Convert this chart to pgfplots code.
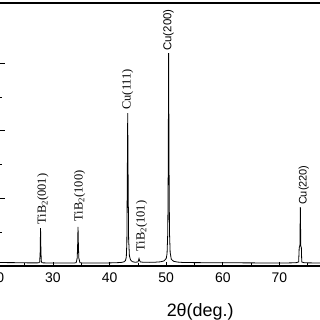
\documentclass[border=0pt]{standalone}
\usepackage{pgfplots}
\pgfplotsset{compat=1.18}
\usepackage{fontspec}
\setmainfont{Liberation Sans}
\newfontfamily\serif{Liberation Serif}
\newfontfamily\sans{Liberation Sans}
\pgfplotstableread{
x y
20 0.055
21 0.052
22 0.050
23 0.050
24 0.048
25 0.047
26 0.046
27 0.046
27.5 0.047
27.65 0.06
27.73 0.2
27.8 0.56
27.87 0.2
27.95 0.06
28.1 0.047
29 0.045
30 0.045
31 0.044
32 0.044
33 0.044
33.8 0.045
34.1 0.05
34.28 0.12
34.35 0.3
34.42 0.58
34.49 0.3
34.56 0.12
34.75 0.05
35 0.046
36 0.044
37 0.044
38 0.044
39 0.045
40 0.046
41 0.048
42 0.052
42.5 0.06
42.8 0.08
42.95 0.13
43.05 0.35
43.12 1.2
43.2 2.26
43.28 1.2
43.36 0.4
43.5 0.15
43.7 0.09
44.0 0.065
44.5 0.055
45.0 0.06
45.1 0.08
45.2 0.11
45.3 0.08
45.45 0.06
46 0.055
47 0.054
48 0.056
49 0.062
49.6 0.075
50.0 0.11
50.15 0.18
50.28 0.5
50.36 1.5
50.43 3.15
50.5 1.5
50.58 0.5
50.7 0.2
50.9 0.1
51.3 0.07
52 0.058
53 0.052
55 0.050
60 0.048
65 0.046
70 0.045
72 0.046
73 0.050
73.4 0.06
73.5 0.27
73.62 0.3
73.7 0.87
73.78 0.3
73.88 0.27
73.95 0.06
74.3 0.05
75 0.046
80 0.045
}\xrd
\begin{document}
\begin{tikzpicture}
\useasboundingbox (3.6bp,-54bp) rectangle (323.6bp,266bp);
\clip (3.6bp,-54bp) rectangle (323.6bp,266bp);
\begin{axis}[at={(0,0)}, anchor=south west, scale only axis,
  width=339.6bp, height=263bp,
  xmin=20, xmax=80, ymin=0, ymax=3.89,
  axis line style={line width=1.2bp},
  xtick={20,30,...,80}, minor x tick num=1, ytick=\empty,
  xtick pos=left, tick align=inside,
  major tick length=4.5bp, minor tick length=3bp,
  tick style={black, line width=0.8bp},
  /pgf/number format/assume math mode=true,
  xticklabel style={font=\sans\fontsize{14}{14}\selectfont, yshift=-3.3bp},
  xlabel={2θ(deg.)},
  xlabel style={font=\sans\fontsize{18}{18}\selectfont, at={(axis description cs:0.6,0)}, anchor=base, yshift=-50bp},
  clip=false]
\addplot[black, line width=0.8bp] table[x=x,y=y] {\xrd};
\node[rotate=90, anchor=west, inner sep=0pt, font=\serif\fontsize{12.5}{12.5}\selectfont] at (axis cs:28.2,0.61) {TiB\textsubscript{2}(001)};
\node[rotate=90, anchor=west, inner sep=0pt, font=\serif\fontsize{12.5}{12.5}\selectfont] at (axis cs:34.7,0.66) {TiB\textsubscript{2}(100)};
\node[rotate=90, anchor=west, inner sep=0pt, font=\serif\fontsize{12.5}{12.5}\selectfont] at (axis cs:43.2,2.31) {Cu(111)};
\node[rotate=90, anchor=west, inner sep=0pt, font=\serif\fontsize{12.5}{12.5}\selectfont] at (axis cs:45.67,0.21) {TiB\textsubscript{2}(101)};
\node[rotate=90, anchor=west, inner sep=0pt, font=\sans\fontsize{11.5}{11.5}\selectfont] at (axis cs:50.4,3.18) {Cu(200)};
\node[rotate=90, anchor=west, inner sep=0pt, font=\sans\fontsize{11}{11}\selectfont] at (axis cs:74.3,0.9) {Cu(220)};
\end{axis}
\begin{axis}[at={(0,0)}, anchor=south west, scale only axis,
  width=339.6bp, height=263bp,
  xmin=20, xmax=80, ymin=0, ymax=3.89,
  axis line style={line width=1.2bp},
  xtick=\empty, ytick={0,1,2,3}, minor y tick num=1, yticklabels={},
  ytick pos=left, tick align=inside,
  major tick length=9bp, minor tick length=5.5bp,
  tick style={black, line width=0.8bp}]
\end{axis}
\end{tikzpicture}
\end{document}
